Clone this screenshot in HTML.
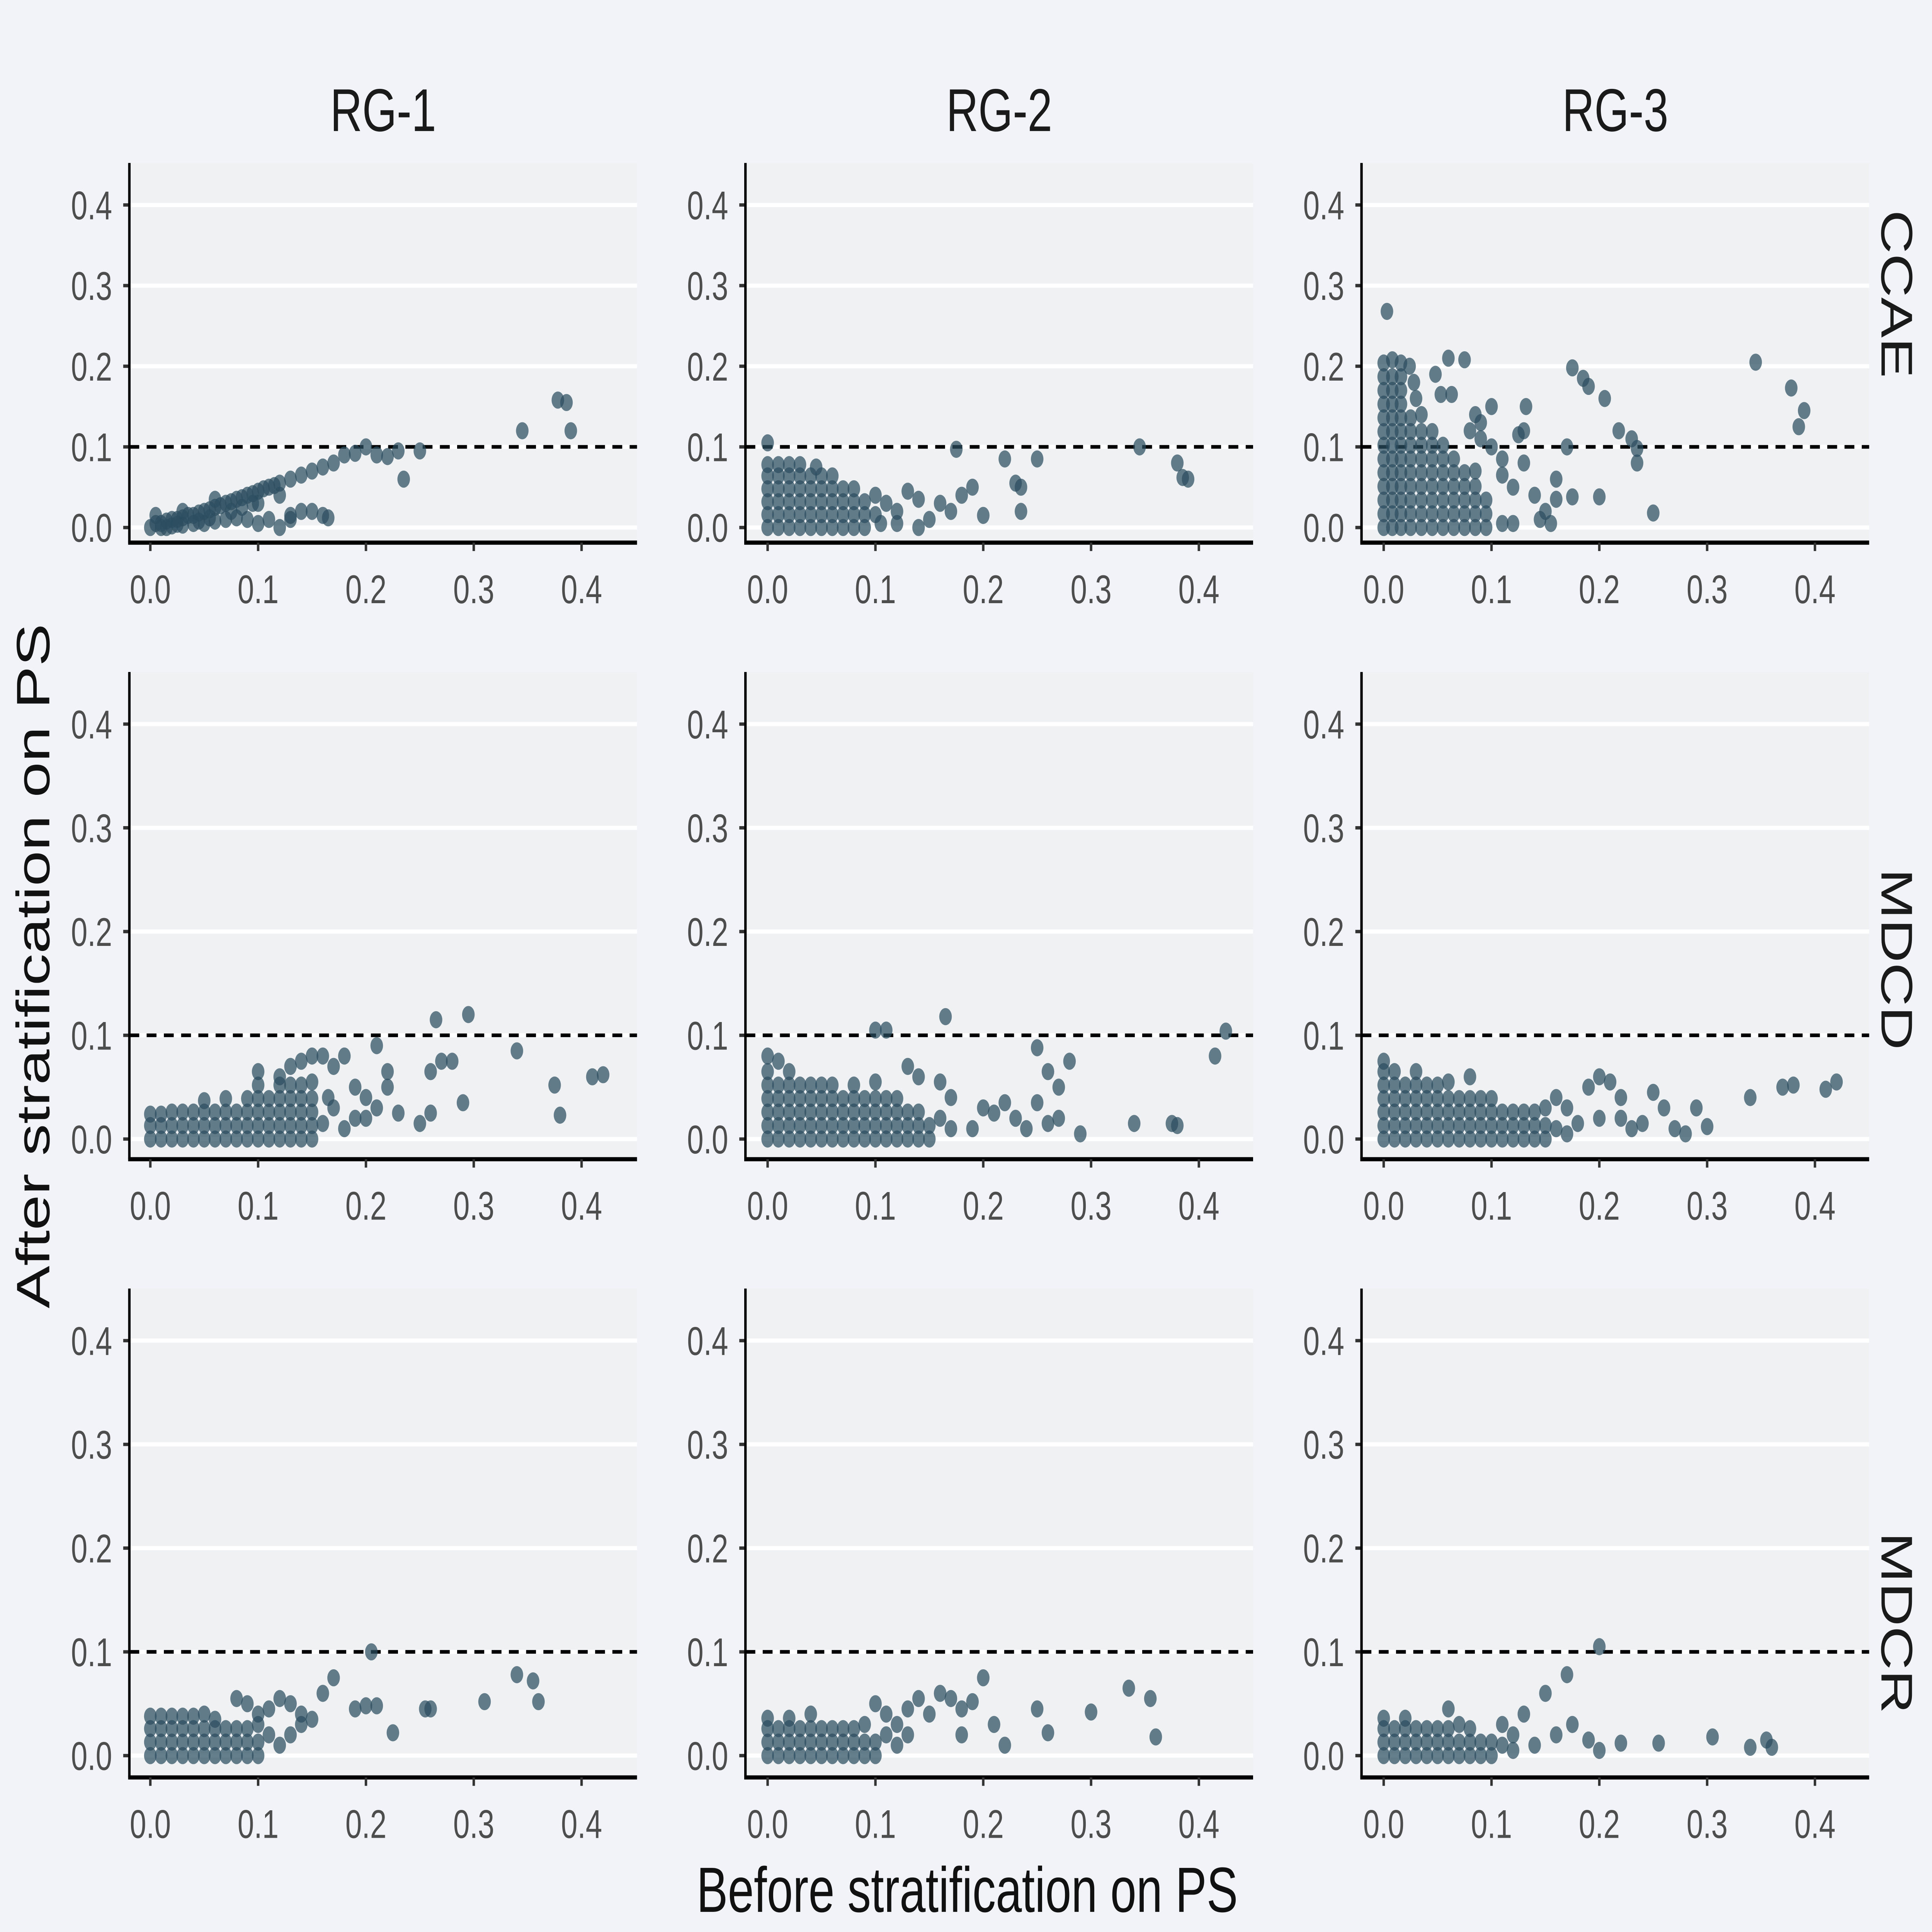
<!DOCTYPE html>
<html><head><meta charset="utf-8">
<style>
html,body{margin:0;padding:0;background:#f2f3f8;overflow:hidden;width:100%;height:100%;}
svg{display:block;width:100vw;height:100vh;}
text{font-family:"Liberation Sans",sans-serif;}
</style></head>
<body>
<svg id="chart" viewBox="0 0 1568 1150" preserveAspectRatio="none" xmlns="http://www.w3.org/2000/svg">
<rect x="0" y="0" width="1568" height="1150" fill="#f2f3f8"/>
<g id="panels"></g>
<text x="785" y="1138" font-size="38" text-anchor="middle" fill="#111">Before stratification on PS</text>
<text transform="translate(40,575) rotate(-90)" font-size="38" text-anchor="middle" fill="#111">After stratification on PS</text>
</svg>
<script>
const colLabels = ["RG-1","RG-2","RG-3"];
const rowLabels = ["CCAE","MDCD","MDCR"];
const xTicks = [0,0.1,0.2,0.3,0.4];
const yTicks = [0,0.1,0.2,0.3,0.4];
const threshold = 0.1;

const ccae_rg1 = [[0,0],[0.005,0.005],[0.01,0.005],[0.015,0.008],[0.02,0.01],[0.025,0.01],[0.03,0.012],[0.035,0.015],[0.04,0.015],[0.045,0.018],[0.05,0.02],[0.055,0.022],[0.06,0.025],[0.065,0.027],[0.07,0.03],[0.075,0.032],[0.08,0.035],[0.085,0.037],[0.09,0.04],[0.095,0.042],[0.1,0.045],[0.105,0.048],[0.11,0.05],[0.115,0.052],[0.12,0.055],[0.13,0.06],[0.14,0.065],[0.15,0.07],[0.16,0.075],[0.17,0.08],[0.18,0.09],[0.19,0.092],[0.2,0.1],[0.21,0.09],[0.22,0.088],[0.23,0.095],[0.25,0.095],[0.235,0.06],[0.345,0.12],[0.378,0.158],[0.386,0.155],[0.39,0.12],[0.01,0],[0.02,0.002],[0.03,0.003],[0.04,0.005],[0.05,0.005],[0.06,0.008],[0.07,0.01],[0.08,0.012],[0.09,0.01],[0.1,0.005],[0.11,0.01],[0.12,0],[0.13,0.015],[0.14,0.02],[0.15,0.02],[0.16,0.015],[0.165,0.012],[0.005,0.015],[0.03,0.02],[0.06,0.035],[0.1,0.03],[0.12,0.04],[0.13,0.01],[0.015,0],[0.025,0.004],[0.045,0.008],[0.055,0.012],[0.075,0.02],[0.085,0.025],[0.095,0.03]];

const ccae_rg2 = [[0,0],[0.01,0],[0.02,0],[0.03,0],[0.04,0],[0.05,0],[0.06,0],[0.07,0],[0.08,0],[0.09,0],[0,0.016],[0.01,0.016],[0.02,0.016],[0.03,0.016],[0.04,0.016],[0.05,0.016],[0.06,0.016],[0.07,0.016],[0.08,0.016],[0.09,0.016],[0.1,0.016],[0,0.032],[0.01,0.032],[0.02,0.032],[0.03,0.032],[0.04,0.032],[0.05,0.032],[0.06,0.032],[0.07,0.032],[0.08,0.032],[0.09,0.032],[0,0.048],[0.01,0.048],[0.02,0.048],[0.03,0.048],[0.04,0.048],[0.05,0.048],[0.06,0.048],[0.07,0.048],[0.08,0.048],[0,0.064],[0.01,0.064],[0.02,0.064],[0.03,0.064],[0.04,0.064],[0.05,0.064],[0.06,0.064],[0,0.078],[0.01,0.078],[0.02,0.078],[0.03,0.078],[0.045,0.075],[0.0,0.105],[0.1,0.04],[0.11,0.03],[0.12,0.02],[0.13,0.045],[0.14,0.035],[0.15,0.01],[0.16,0.03],[0.17,0.02],[0.175,0.097],[0.18,0.04],[0.19,0.05],[0.2,0.015],[0.22,0.085],[0.23,0.055],[0.235,0.05],[0.235,0.02],[0.25,0.085],[0.345,0.1],[0.38,0.08],[0.39,0.06],[0.385,0.062],[0.12,0.005],[0.14,0.0],[0.105,0.005]];

const ccae_rg3 = [[0,0],[0.008,0],[0.016,0],[0,0.017],[0.008,0.017],[0.016,0.017],[0,0.034],[0.008,0.034],[0.016,0.034],[0,0.051],[0.008,0.051],[0.016,0.051],[0,0.068],[0.008,0.068],[0.016,0.068],[0,0.085],[0.008,0.085],[0.016,0.085],[0,0.102],[0.008,0.102],[0.016,0.102],[0,0.119],[0.008,0.119],[0.016,0.119],[0,0.136],[0.008,0.136],[0.016,0.136],[0,0.153],[0.008,0.153],[0.016,0.153],[0,0.17],[0.008,0.17],[0.016,0.17],[0,0.187],[0.008,0.187],[0.016,0.187],[0,0.204],[0.008,0.208],[0.016,0.204],[0.024,0.2],[0.028,0.18],[0.03,0.16],[0.025,0],[0.035,0],[0.045,0],[0.055,0],[0.065,0],[0.075,0],[0.085,0],[0.095,0],[0.025,0.017],[0.035,0.017],[0.045,0.017],[0.055,0.017],[0.065,0.017],[0.075,0.017],[0.085,0.017],[0.095,0.017],[0.025,0.034],[0.035,0.034],[0.045,0.034],[0.055,0.034],[0.065,0.034],[0.075,0.034],[0.085,0.034],[0.095,0.034],[0.025,0.051],[0.035,0.051],[0.045,0.051],[0.055,0.051],[0.065,0.051],[0.075,0.051],[0.085,0.051],[0.025,0.068],[0.035,0.068],[0.045,0.068],[0.055,0.068],[0.065,0.068],[0.075,0.068],[0.085,0.07],[0.025,0.085],[0.035,0.085],[0.045,0.085],[0.055,0.085],[0.065,0.085],[0.025,0.102],[0.035,0.102],[0.045,0.102],[0.055,0.102],[0.025,0.119],[0.035,0.119],[0.045,0.119],[0.025,0.136],[0.035,0.14],[0.003,0.268],[0.06,0.21],[0.075,0.208],[0.048,0.19],[0.053,0.165],[0.063,0.165],[0.1,0.15],[0.132,0.15],[0.175,0.198],[0.185,0.185],[0.19,0.175],[0.205,0.16],[0.218,0.12],[0.23,0.11],[0.235,0.098],[0.235,0.08],[0.17,0.1],[0.345,0.205],[0.378,0.173],[0.39,0.145],[0.385,0.125],[0.25,0.018],[0.2,0.038],[0.175,0.038],[0.16,0.06],[0.12,0.05],[0.13,0.08],[0.14,0.04],[0.15,0.02],[0.155,0.005],[0.11,0.005],[0.12,0.005],[0.125,0.115],[0.13,0.12],[0.09,0.13],[0.085,0.14],[0.11,0.085],[0.11,0.065],[0.145,0.01],[0.16,0.035],[0.1,0.1],[0.09,0.11],[0.08,0.12]];

const mdcd_rg1 = [[0,0],[0.01,0],[0.02,0],[0.03,0],[0.04,0],[0.05,0],[0.06,0],[0.07,0],[0.08,0],[0.09,0],[0.1,0],[0.11,0],[0.12,0],[0.13,0],[0.14,0],[0.15,0],[0,0.013],[0.01,0.013],[0.02,0.013],[0.03,0.013],[0.04,0.013],[0.05,0.013],[0.06,0.013],[0.07,0.013],[0.08,0.013],[0.09,0.013],[0.1,0.013],[0.11,0.013],[0.12,0.013],[0.13,0.013],[0.14,0.013],[0.15,0.013],[0,0.024],[0.01,0.024],[0.02,0.026],[0.03,0.026],[0.04,0.026],[0.05,0.026],[0.06,0.026],[0.07,0.026],[0.08,0.026],[0.09,0.026],[0.1,0.026],[0.11,0.026],[0.12,0.026],[0.13,0.026],[0.14,0.026],[0.15,0.026],[0.05,0.037],[0.07,0.039],[0.09,0.039],[0.1,0.039],[0.11,0.039],[0.12,0.039],[0.13,0.039],[0.14,0.039],[0.15,0.039],[0.1,0.052],[0.12,0.052],[0.13,0.052],[0.14,0.052],[0.15,0.055],[0.1,0.065],[0.12,0.06],[0.13,0.07],[0.14,0.075],[0.15,0.08],[0.16,0.08],[0.17,0.07],[0.18,0.08],[0.19,0.05],[0.2,0.04],[0.21,0.09],[0.22,0.065],[0.2,0.02],[0.21,0.03],[0.23,0.025],[0.25,0.015],[0.26,0.025],[0.26,0.065],[0.265,0.115],[0.27,0.075],[0.28,0.075],[0.29,0.035],[0.295,0.12],[0.34,0.085],[0.375,0.052],[0.38,0.023],[0.41,0.06],[0.42,0.062],[0.17,0.03],[0.18,0.01],[0.19,0.02],[0.22,0.05],[0.16,0.015],[0.165,0.04]];

const mdcd_rg2 = [[0,0],[0.01,0],[0.02,0],[0.03,0],[0.04,0],[0.05,0],[0.06,0],[0.07,0],[0.08,0],[0.09,0],[0.1,0],[0.11,0],[0.12,0],[0.13,0],[0.14,0],[0.15,0],[0,0.013],[0.01,0.013],[0.02,0.013],[0.03,0.013],[0.04,0.013],[0.05,0.013],[0.06,0.013],[0.07,0.013],[0.08,0.013],[0.09,0.013],[0.1,0.013],[0.11,0.013],[0.12,0.013],[0.13,0.013],[0.14,0.013],[0.15,0.013],[0,0.026],[0.01,0.026],[0.02,0.026],[0.03,0.026],[0.04,0.026],[0.05,0.026],[0.06,0.026],[0.07,0.026],[0.08,0.026],[0.09,0.026],[0.1,0.026],[0.11,0.026],[0.12,0.026],[0.13,0.026],[0.14,0.026],[0,0.039],[0.01,0.039],[0.02,0.039],[0.03,0.039],[0.04,0.039],[0.05,0.039],[0.06,0.039],[0.07,0.039],[0.08,0.039],[0.09,0.039],[0.1,0.039],[0.11,0.039],[0.12,0.039],[0,0.052],[0.01,0.052],[0.02,0.052],[0.03,0.052],[0.04,0.052],[0.05,0.052],[0.06,0.052],[0.08,0.052],[0.1,0.055],[0,0.08],[0.01,0.075],[0,0.065],[0.02,0.065],[0.1,0.105],[0.11,0.105],[0.165,0.118],[0.13,0.07],[0.14,0.06],[0.16,0.055],[0.17,0.04],[0.2,0.03],[0.21,0.025],[0.22,0.035],[0.23,0.02],[0.25,0.088],[0.26,0.065],[0.27,0.05],[0.28,0.075],[0.25,0.035],[0.26,0.015],[0.27,0.02],[0.29,0.005],[0.34,0.015],[0.375,0.015],[0.38,0.013],[0.415,0.08],[0.425,0.104],[0.19,0.01],[0.24,0.01],[0.16,0.02],[0.17,0.01]];

const mdcd_rg3 = [[0,0],[0.01,0],[0.02,0],[0.03,0],[0.04,0],[0.05,0],[0.06,0],[0.07,0],[0.08,0],[0.09,0],[0.1,0],[0.11,0],[0.12,0],[0.13,0],[0.14,0],[0.15,0],[0,0.013],[0.01,0.013],[0.02,0.013],[0.03,0.013],[0.04,0.013],[0.05,0.013],[0.06,0.013],[0.07,0.013],[0.08,0.013],[0.09,0.013],[0.1,0.013],[0.11,0.013],[0.12,0.013],[0.13,0.013],[0.14,0.013],[0.15,0.013],[0,0.026],[0.01,0.026],[0.02,0.026],[0.03,0.026],[0.04,0.026],[0.05,0.026],[0.06,0.026],[0.07,0.026],[0.08,0.026],[0.09,0.026],[0.1,0.026],[0.11,0.026],[0.12,0.026],[0.13,0.026],[0.14,0.026],[0,0.039],[0.01,0.039],[0.02,0.039],[0.03,0.039],[0.04,0.039],[0.05,0.039],[0.06,0.039],[0.07,0.039],[0.08,0.039],[0.09,0.039],[0.1,0.039],[0,0.052],[0.01,0.052],[0.02,0.052],[0.03,0.052],[0.04,0.052],[0.05,0.052],[0.06,0.055],[0.08,0.06],[0,0.065],[0.01,0.065],[0.03,0.065],[0,0.075],[0.16,0.04],[0.17,0.03],[0.18,0.015],[0.19,0.05],[0.2,0.06],[0.21,0.055],[0.2,0.02],[0.22,0.02],[0.24,0.015],[0.25,0.045],[0.26,0.03],[0.27,0.01],[0.28,0.005],[0.29,0.03],[0.3,0.012],[0.34,0.04],[0.37,0.05],[0.38,0.052],[0.41,0.048],[0.42,0.055],[0.22,0.04],[0.23,0.01],[0.16,0.01],[0.17,0.005],[0.15,0.03]];

const mdcr_rg1 = [[0,0],[0.01,0],[0.02,0],[0.03,0],[0.04,0],[0.05,0],[0.06,0],[0.07,0],[0.08,0],[0.09,0],[0.1,0],[0,0.013],[0.01,0.013],[0.02,0.013],[0.03,0.013],[0.04,0.013],[0.05,0.013],[0.06,0.013],[0.07,0.013],[0.08,0.013],[0.09,0.013],[0.1,0.013],[0,0.026],[0.01,0.026],[0.02,0.026],[0.03,0.026],[0.04,0.026],[0.05,0.026],[0.06,0.026],[0.07,0.026],[0.08,0.026],[0.09,0.026],[0,0.038],[0.01,0.038],[0.02,0.038],[0.03,0.038],[0.04,0.038],[0.05,0.04],[0.06,0.035],[0.08,0.055],[0.09,0.05],[0.1,0.04],[0.11,0.045],[0.12,0.055],[0.13,0.05],[0.14,0.04],[0.15,0.035],[0.16,0.06],[0.17,0.075],[0.19,0.045],[0.2,0.048],[0.205,0.1],[0.21,0.048],[0.225,0.022],[0.255,0.045],[0.26,0.045],[0.31,0.052],[0.34,0.078],[0.355,0.072],[0.36,0.052],[0.13,0.02],[0.14,0.03],[0.12,0.01],[0.11,0.02],[0.1,0.03]];

const mdcr_rg2 = [[0,0],[0.01,0],[0.02,0],[0.03,0],[0.04,0],[0.05,0],[0.06,0],[0.07,0],[0.08,0],[0.09,0],[0.1,0],[0,0.013],[0.01,0.013],[0.02,0.013],[0.03,0.013],[0.04,0.013],[0.05,0.013],[0.06,0.013],[0.07,0.013],[0.08,0.013],[0.09,0.013],[0.1,0.013],[0,0.026],[0.01,0.026],[0.02,0.026],[0.03,0.026],[0.04,0.026],[0.05,0.026],[0.06,0.026],[0.07,0.026],[0.08,0.026],[0.09,0.03],[0,0.036],[0.02,0.036],[0.04,0.04],[0.1,0.05],[0.11,0.04],[0.12,0.03],[0.13,0.045],[0.14,0.055],[0.15,0.04],[0.16,0.06],[0.17,0.055],[0.18,0.045],[0.19,0.052],[0.2,0.075],[0.21,0.03],[0.22,0.01],[0.25,0.045],[0.26,0.022],[0.3,0.042],[0.335,0.065],[0.355,0.055],[0.36,0.018],[0.18,0.02],[0.11,0.02],[0.12,0.01],[0.13,0.02]];

const mdcr_rg3 = [[0,0],[0.01,0],[0.02,0],[0.03,0],[0.04,0],[0.05,0],[0.06,0],[0.07,0],[0.08,0],[0.09,0],[0.1,0],[0,0.013],[0.01,0.013],[0.02,0.013],[0.03,0.013],[0.04,0.013],[0.05,0.013],[0.06,0.013],[0.07,0.013],[0.08,0.013],[0.09,0.013],[0.1,0.013],[0,0.026],[0.01,0.026],[0.02,0.026],[0.03,0.026],[0.04,0.026],[0.05,0.026],[0.06,0.026],[0.07,0.03],[0.08,0.026],[0,0.036],[0.02,0.036],[0.06,0.045],[0.11,0.03],[0.12,0.02],[0.13,0.04],[0.14,0.01],[0.15,0.06],[0.16,0.02],[0.17,0.078],[0.175,0.03],[0.2,0.105],[0.19,0.015],[0.2,0.005],[0.22,0.012],[0.255,0.012],[0.305,0.018],[0.34,0.008],[0.355,0.015],[0.36,0.008],[0.12,0.005],[0.11,0.01]];

const panelData = [[ccae_rg1,ccae_rg2,ccae_rg3],[mdcd_rg1,mdcd_rg2,mdcd_rg3],[mdcr_rg1,mdcr_rg2,mdcr_rg3]];

const NS = "http://www.w3.org/2000/svg";
const colLayout = [{l:105,r:517,zero:122},{l:605,r:1017,zero:623},{l:1105,r:1517,zero:1123}];
const rowLayout = [{t:97,b:323,zero:314,unit:480},{t:400,b:690,zero:678,unit:617.5},{t:767,b:1058,zero:1045,unit:617.5}];
const stripY = [175,571,966];
const xUnit = 875;
function mk(tag, attrs, parent){const e=document.createElementNS(NS,tag);for(const k in attrs)e.setAttribute(k,attrs[k]);parent.appendChild(e);return e;}
const root = document.getElementById('panels');

colLabels.forEach((c,ci)=>{
  const t = mk('text',{x:(colLayout[ci].l+colLayout[ci].r)/2,y:78,'font-size':36,'text-anchor':'middle',fill:'#1a1a1a'},root);
  
  
  t.textContent=c;
});
rowLabels.forEach((r,ri)=>{
  const t = mk('text',{transform:`translate(1527,${stripY[ri]}) rotate(90)`,'font-size':36,'text-anchor':'middle',fill:'#1a1a1a'},root);
  
  
  t.textContent=r;
});

rowLayout.forEach((R,ri)=>{
  colLayout.forEach((C,ci)=>{
    const sx = v => C.zero + v*xUnit;
    const sy = v => R.zero - v*R.unit;
    const g = mk('g',{},root);
    
    
    const bg = mk('rect',{x:C.l,y:R.t,width:C.r-C.l,height:R.b-R.t,fill:'#f0f1f3'},g);
    
    
    yTicks.forEach(v=>{
      const gl = mk('line',{x1:C.l,x2:C.r,y1:sy(v),y2:sy(v),stroke:'#ffffff','stroke-width':2.5},g);
      
      
      const tk = mk('line',{x1:C.l-5,x2:C.l,y1:sy(v),y2:sy(v),stroke:'#333','stroke-width':2},g);
      
      
      const tl = mk('text',{x:C.l-14,y:sy(v)+8.5,'font-size':24,'text-anchor':'end',fill:'#4d4d4d'},g);
      
      
      tl.textContent=v.toFixed(1);
    });
    const th = mk('line',{x1:C.l,x2:C.r,y1:sy(threshold),y2:sy(threshold),stroke:'#000','stroke-width':2.2,'stroke-dasharray':'8,6'},g);
    
    
    panelData[ri][ci].forEach(p=>{
      const c = mk('circle',{cx:sx(p[0]),cy:sy(p[1]),r:5.1,fill:'#2b4d5f','fill-opacity':0.72},g);
      
      
    });
    const ya = mk('line',{x1:C.l,x2:C.l,y1:R.t,y2:R.b,stroke:'#000','stroke-width':2},g);
    
    
    const xa = mk('line',{x1:C.l-1,x2:C.r,y1:R.b,y2:R.b,stroke:'#000','stroke-width':2.5},g);
    
    
    xTicks.forEach(v=>{
      const tk = mk('line',{x1:sx(v),x2:sx(v),y1:R.b,y2:R.b+5,stroke:'#333','stroke-width':2},g);
      
      
      const tl = mk('text',{x:sx(v),y:R.b+36,'font-size':24,'text-anchor':'middle',fill:'#4d4d4d'},g);
      
      
      tl.textContent=v.toFixed(1);
    });
  });
});
</script>
</body></html>
